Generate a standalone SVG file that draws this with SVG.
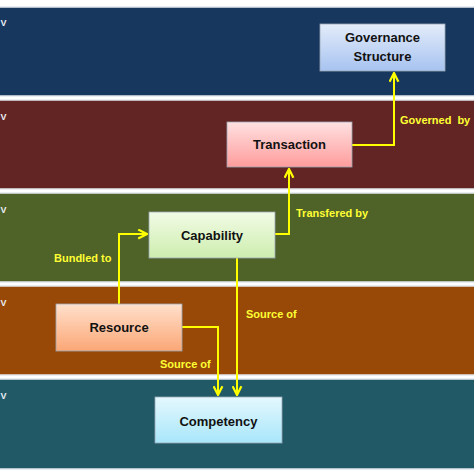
<svg xmlns="http://www.w3.org/2000/svg" width="474" height="474" viewBox="0 0 474 474">
<defs>
<style>
.band{stroke:#e3e8ee;stroke-width:1.5}
.node{stroke:#9aa7b5;stroke-width:0.8}
.nt{font-family:"Liberation Sans",Arial,sans-serif;font-weight:bold;font-size:13px;fill:#111;text-anchor:middle}
.lbl{font-family:"Liberation Sans",Arial,sans-serif;font-weight:bold;font-size:11px;fill:#ffff33}
.side{font-family:"Liberation Sans",Arial,sans-serif;font-weight:bold;font-size:9px;fill:#e8eef4}
.con{fill:none;stroke:#ffff00;stroke-width:2}
</style>
<linearGradient id="gBlue" x1="0" y1="0" x2="0" y2="1"><stop offset="0" stop-color="#e3ecfa"/><stop offset="1" stop-color="#a7c3f0"/></linearGradient>
<linearGradient id="gPink" x1="0" y1="0" x2="0" y2="1"><stop offset="0" stop-color="#ffe1e1"/><stop offset="1" stop-color="#ff9c9c"/></linearGradient>
<linearGradient id="gGreen" x1="0" y1="0" x2="0" y2="1"><stop offset="0" stop-color="#f2fbe6"/><stop offset="1" stop-color="#cdeeae"/></linearGradient>
<linearGradient id="gOrange" x1="0" y1="0" x2="0" y2="1"><stop offset="0" stop-color="#ffe0cc"/><stop offset="1" stop-color="#fba776"/></linearGradient>
<linearGradient id="gCyan" x1="0" y1="0" x2="0" y2="1"><stop offset="0" stop-color="#e4f8fd"/><stop offset="1" stop-color="#a8e6fb"/></linearGradient>
<marker id="arr" viewBox="0 0 10 10" refX="9" refY="5" markerWidth="5.5" markerHeight="5.5" orient="auto" markerUnits="strokeWidth">
<path d="M1,1 L9,5 L1,9" fill="none" stroke="#ffff00" stroke-width="2"/>
</marker>
</defs>
<rect width="474" height="474" fill="#ffffff"/>
<g id="bands">
<rect class="band" x="-2" y="7" width="478" height="89" fill="#18375e"/>
<rect class="band" x="-2" y="100" width="478" height="89" fill="#632523"/>
<rect class="band" x="-2" y="193" width="478" height="89" fill="#4f6228"/>
<rect class="band" x="-2" y="286" width="478" height="89" fill="#984807"/>
<rect class="band" x="-2" y="379" width="478" height="90" fill="#215967"/>
<text class="side" x="0.5" y="26">V</text>
<text class="side" x="0.5" y="120">V</text>
<text class="side" x="0.5" y="213">V</text>
<text class="side" x="0.5" y="306">V</text>
<text class="side" x="0.5" y="399">V</text>
</g>
<g id="connectors">
<polyline class="con" points="352,145 394,145 394,73" marker-end="url(#arr)"/>
<polyline class="con" points="275,234 289,234 289,169" marker-end="url(#arr)"/>
<polyline class="con" points="119,304 119,234 147,234" marker-end="url(#arr)"/>
<polyline class="con" points="182,327 218,327 218,395" marker-end="url(#arr)"/>
<polyline class="con" points="237,258 237,395" marker-end="url(#arr)"/>
<text class="lbl" x="400" y="124" word-spacing="3">Governed by</text>
<text class="lbl" x="296" y="217">Transfered by</text>
<text class="lbl" x="54" y="262">Bundled to</text>
<text class="lbl" x="246" y="318">Source of</text>
<text class="lbl" x="160" y="368">Source of</text>
</g>
<g id="governance">
<rect class="node" x="320" y="24" width="125" height="47" fill="url(#gBlue)"/>
<text class="nt" x="382.5" y="42">Governance</text>
<text class="nt" x="382.5" y="61">Structure</text>
</g>
<g id="transaction">
<rect class="node" x="227" y="122" width="125" height="45" fill="url(#gPink)"/>
<text class="nt" x="289.5" y="149">Transaction</text>
</g>
<g id="capability">
<rect class="node" x="149" y="212" width="126" height="46" fill="url(#gGreen)"/>
<text class="nt" x="212" y="240">Capability</text>
</g>
<g id="resource">
<rect class="node" x="56" y="304" width="126" height="47" fill="url(#gOrange)"/>
<text class="nt" x="119" y="332">Resource</text>
</g>
<g id="competency">
<rect class="node" x="155" y="397" width="127" height="46" fill="url(#gCyan)"/>
<text class="nt" x="218.5" y="426">Competency</text>
</g>
</svg>
